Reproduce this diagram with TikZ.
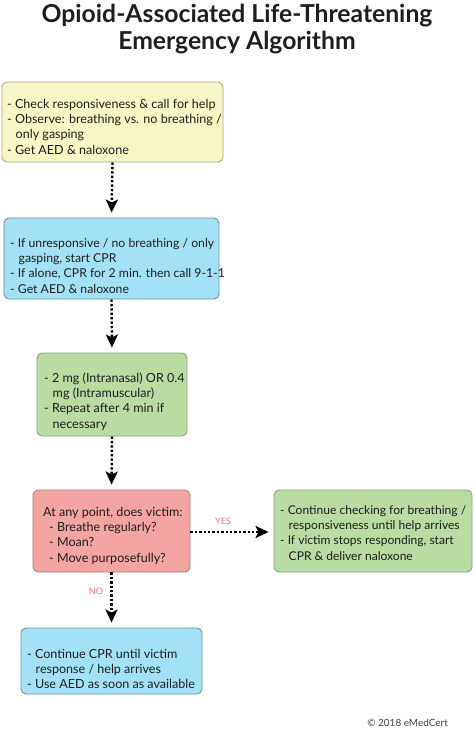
\documentclass[tikz,border=0pt]{standalone}
\usepackage{fontspec}
\setmainfont{Lato}
\usetikzlibrary{arrows.meta}
\definecolor{yelF}{HTML}{F7F7C6}
\definecolor{yelD}{HTML}{A8A88E}
\definecolor{bluF}{HTML}{A3E2F6}
\definecolor{bluD}{HTML}{6F909F}
\definecolor{grnF}{HTML}{B8DCA2}
\definecolor{grnD}{HTML}{8C9E86}
\definecolor{redF}{HTML}{F4A5A1}
\definecolor{redD}{HTML}{A08483}
\definecolor{lab}{HTML}{E6766F}
\definecolor{ink}{HTML}{1E1E1E}
\tikzset{
  box/.style={draw=#1, rounded corners=5bp, line width=0.9bp, inner sep=0pt},
  txt/.style={anchor=base west, align=left, inner sep=0pt, text=ink,
              font=\fontsize{12.6}{15.2}\selectfont},
  flow/.style={line width=2.4bp, dash pattern=on 2.4bp off 2bp,
               -{Stealth[length=13bp,width=12bp,inset=3bp]}, shorten >=5bp},
  lbl/.style={text=lab, font=\fontsize{9}{10}\selectfont, inner sep=0pt}
}
\newcommand{\hang}{\hspace*{8.5bp}}
\begin{document}
\begin{tikzpicture}[x=1bp,y=-1bp]
\path[use as bounding box, fill=white] (0,0) rectangle (474,732);
% title
\node[font=\fontsize{24.8}{28}\selectfont\bfseries, text=ink, align=center, inner sep=0pt] (title) at (237,29)
  {Opioid-Associated Life-Threatening\\Emergency Algorithm};
% boxes
\node[box=yelD, fill=yelF, minimum width=221bp, minimum height=80bp] (b1) at (112.5,122) {};
\node[box=bluD, fill=bluF, minimum width=215bp, minimum height=81bp] (b2) at (111.5,258.5) {};
\node[box=grnD, fill=grnF, minimum width=150bp, minimum height=83bp] (b3) at (112,394.5) {};
\node[box=redD, fill=redF, minimum width=157bp, minimum height=82bp] (b4) at (111.5,531) {};
\node[box=grnD, fill=grnF, minimum width=198bp, minimum height=82bp] (b5) at (373,531) {};
\node[box=bluD, fill=bluF, minimum width=181bp, minimum height=66bp] (b6) at (111.5,661) {};
% texts (base anchor = baseline of last line)
\node[txt] (t1) at (7,154.1) {- Check responsiveness \& call for help\\- Observe: breathing vs. no breathing /\\\hang only gasping\\- Get AED \& naloxone};
\node[txt, font=\fontsize{12.3}{15.2}\selectfont] (t2) at (10,293.1) {- If unresponsive / no breathing / only\\\hang gasping, start CPR\\- If alone, CPR for 2 min. then call 9-1-1\\- Get AED \& naloxone};
\node[txt] (t3) at (44,428.1) {- 2 mg (Intranasal) OR 0.4\\\hang mg (Intramuscular)\\- Repeat after 4 min if\\\hang necessary};
\node[txt] (t4) at (43,562.1) {At any point, does victim:\\\hspace*{6bp}- Breathe regularly?\\\hspace*{6bp}- Moan?\\\hspace*{6bp}- Move purposefully?};
\node[txt, font=\fontsize{12.1}{15.2}\selectfont] (t5) at (280,560.1) {- Continue checking for breathing /\\\hang responsiveness until help arrives\\- If victim stops responding, start\\\hang CPR \& deliver naloxone};
\node[txt] (t6) at (27,688.9) {- Continue CPR until victim\\\hang response / help arrives\\- Use AED as soon as available};
% connectors
\draw[flow] (b1.south) -- (b2.north);
\draw[flow] (b2.south) -- (b3.north);
\draw[flow] (b3.south) -- (b4.north);
\draw[flow] (b4.east |- 0,532) coordinate (y0) -- (b5.west |- y0);
\draw[flow] (b4.south) -- (b6.north);
\node[lbl] (yes) at (223,521) {YES};
\node[lbl] (no) at (96,591) {NO};
\node[anchor=east, inner sep=0pt, text=ink!85, font=\fontsize{10}{12}\selectfont] (copy) at (448,723) {© 2018 eMedCert};
\end{tikzpicture}
\end{document}
